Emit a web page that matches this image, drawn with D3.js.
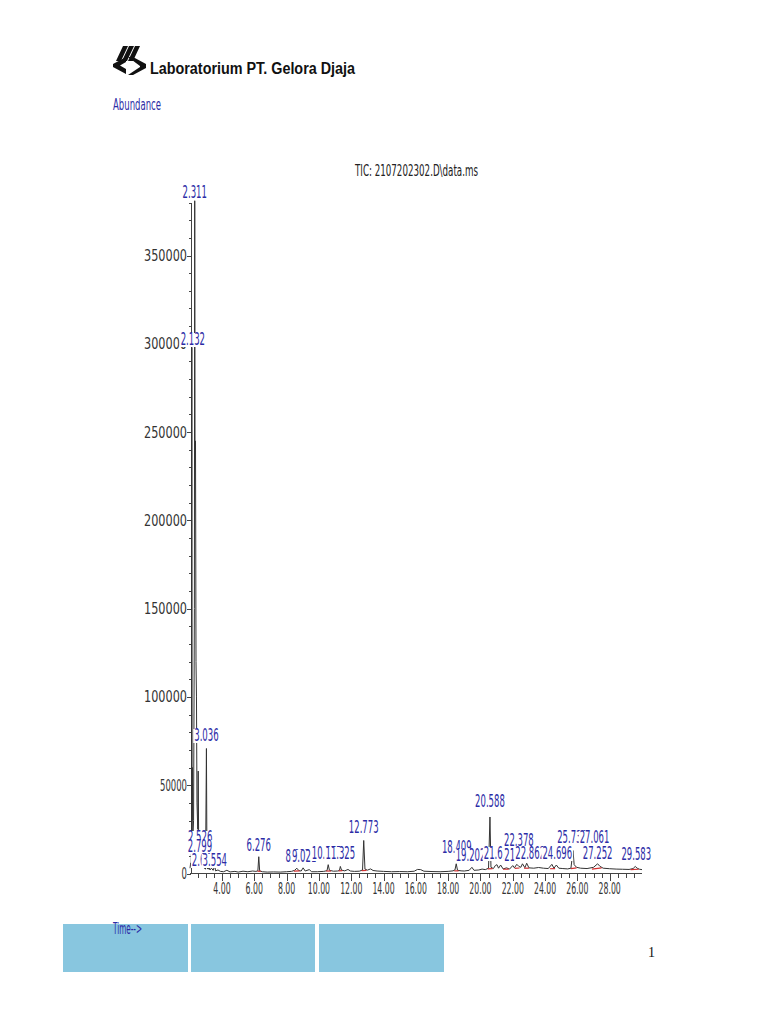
<!DOCTYPE html>
<html>
<head>
<meta charset="utf-8">
<script src="https://cdn.jsdelivr.net/npm/d3@7"></script>
<style>
  html, body { margin: 0; padding: 0; background: #fff; }
  svg { display: block; }
</style>
</head>
<body>
<svg id="chart" width="768" height="1024"></svg>
<script>
// ---------------- DATA ----------------
const headerTitle = "Laboratorium PT. Gelora Djaja";
const yAxisTitle = "Abundance";
const xAxisTitle = "Time-->";
const chartTitle = "TIC: 2107202302.D\\data.ms";
const pageNumber = "1";

const yTicks = [0, 50000, 100000, 150000, 200000, 250000, 300000, 350000];
const yTickLabels = ["0", "50000", "100000", "150000", "200000", "250000", "300000", "350000"];
const xTicks = [4, 6, 8, 10, 12, 14, 16, 18, 20, 22, 24, 26, 28];
const xTickLabels = ["4.00", "6.00", "8.00", "10.00", "12.00", "14.00", "16.00", "18.00", "20.00", "22.00", "24.00", "26.00", "28.00"];

// TIC trace: [retention time (min), abundance]
const trace = [
  [2.02, 3000], [2.06, 6000], [2.09, 4000], [2.12, 20000], [2.132, 298000], [2.145, 30000],
  [2.17, 60000], [2.19, 20000], [2.24, 30000], [2.29, 150000], [2.311, 381000], [2.33, 240000],
  [2.36, 245000], [2.39, 120000], [2.42, 100000], [2.45, 40000], [2.50, 25000], [2.526, 58000],
  [2.56, 12000], [2.62, 6000], [2.641, 9000], [2.68, 4000], [2.76, 5000], [2.799, 12000],
  [2.84, 4000], [2.90, 3000], [2.98, 2500], [3.036, 70800], [3.07, 3000], [3.15, 2500],
  [3.20, 4500], [3.25, 2000], [3.35, 3000], [3.45, 1800], [3.554, 4500], [3.60, 1500],
  [3.75, 2000], [3.90, 1200], [4.10, 1000], [4.30, 1800], [4.50, 900], [4.80, 1200],
  [5.00, 800], [5.30, 1300], [5.60, 1000], [5.90, 1400], [6.10, 1200], [6.22, 1500],
  [6.276, 9500], [6.33, 1500], [6.50, 1000], [6.80, 800], [7.20, 900], [7.60, 800],
  [8.00, 1000], [8.30, 1200], [8.50, 1800], [8.63, 3000], [8.76, 1600], [8.90, 1400],
  [9.021, 3200], [9.15, 1400], [9.40, 2200], [9.55, 1000], [9.90, 1000], [10.30, 1200],
  [10.50, 1600], [10.575, 5000], [10.65, 1800], [10.90, 1300], [11.15, 1400], [11.27, 1700],
  [11.325, 4000], [11.40, 1900], [11.60, 1500], [11.80, 2300], [11.95, 1400], [12.20, 1200],
  [12.50, 1300], [12.70, 2000], [12.773, 18700], [12.85, 2500], [13.00, 1900], [13.20, 2600],
  [13.35, 1700], [13.60, 1400], [14.00, 1200], [14.50, 1000], [15.00, 1100], [15.50, 1000],
  [15.90, 1300], [16.10, 2300], [16.30, 2200], [16.50, 1300], [17.00, 1100], [17.50, 1000],
  [18.00, 1200], [18.30, 1500], [18.42, 2000], [18.50, 5500], [18.58, 1800], [18.80, 1500],
  [19.00, 1400], [19.30, 1800], [19.47, 3500], [19.60, 1800], [19.90, 2000], [20.10, 2500],
  [20.30, 2200], [20.50, 3000], [20.588, 32000], [20.65, 3500], [20.80, 2800], [20.92, 4500],
  [21.02, 5000], [21.12, 3000], [21.25, 4800], [21.40, 2600], [21.617, 3200], [21.80, 2500],
  [22.00, 4500], [22.10, 3200], [22.25, 5200], [22.378, 4000], [22.50, 3500], [22.60, 5500],
  [22.75, 3300], [22.862, 5800], [23.00, 3200], [23.30, 3000], [23.60, 3400], [23.90, 3000],
  [24.20, 2800], [24.42, 5200], [24.55, 3000], [24.696, 4800], [24.85, 3000], [25.10, 2800],
  [25.40, 2600], [25.60, 3000], [25.73, 13000], [25.80, 5000], [25.95, 3500], [26.20, 3000],
  [26.60, 2800], [27.00, 3500], [27.252, 5500], [27.40, 4000], [27.60, 3000], [28.00, 2700],
  [28.40, 2500], [28.80, 2400], [29.20, 2300], [29.45, 2800], [29.583, 4000], [29.70, 3000],
  [29.85, 2400], [30.00, 2200]
];

// Integration baselines (red): [t1, a1, t2, a2]
const integrationBaselines = [
  [6.20, 1300, 6.40, 1200], [8.45, 1300, 8.80, 1500], [10.45, 1400, 10.75, 1400],
  [11.22, 1500, 11.45, 1600], [12.65, 1600, 12.95, 1800], [18.38, 1500, 18.65, 1500],
  [20.45, 2600, 20.75, 2800], [21.40, 2400, 21.75, 2500], [22.12, 2900, 22.42, 3100],
  [22.70, 3000, 23.00, 3000], [24.30, 2700, 24.62, 2800], [25.60, 2800, 25.95, 3200],
  [26.90, 2500, 27.50, 3200], [29.30, 2200, 29.80, 2400]
];

// Peak labels (retention times as printed)
const peakLabels = [
  "2.311", "2.132", "3.036", "2.526", "2.799", "2.641", "3.554", "6.276",
  "8.682", "9.021", "10.575", "11.325", "12.773", "18.409", "19.202", "20.588",
  "21.617", "22.378", "21.935", "22.862", "24.696", "25.730", "27.061", "27.252", "29.583"
];

// ---------------- LAYOUT ----------------
const svg = d3.select("#chart");
svg.append("rect").attr("width", 768).attr("height", 1024).attr("fill", "#fff");

const narrow = "'Liberation Sans Narrow', 'DejaVu Sans Condensed', 'Arial Narrow', sans-serif";
const blue = "#2b2ba6";

const x = d3.scaleLinear().domain([2.0, 30.0]).range([189.7, 642]);
const y = d3.scaleLinear().domain([0, 350000]).range([873.5, 255.5]);

function numWidth(s, dw, pw) {
  let w = 0;
  for (const c of s) w += (c === "." ? pw : dw);
  return w;
}

// ---------- Header & logo ----------
const logo = svg.append("g").attr("fill", "#111");
[0, 6, 12].forEach(o => {
  logo.append("path").attr("d", `M${116 + o},61 L${123 + o},46 L${128 + o},46 L${121 + o},61 Z`);
});
logo.append("path").attr("d", "M113,64 L126,57 L126,62 L120,65.5 L126,69 L126,74 L113,67 Z");
logo.append("path").attr("d", "M128,57 L133,57 L146,64 L146,68 L133,75 L128,75 L140,67 L140,66 Z");

svg.append("text")
  .attr("x", 150).attr("y", 74)
  .attr("font-family", "'Liberation Sans', Arial, sans-serif")
  .attr("font-weight", "bold").attr("font-size", 16)
  .attr("textLength", 205).attr("lengthAdjust", "spacingAndGlyphs")
  .attr("fill", "#111")
  .text(headerTitle);

svg.append("text")
  .attr("x", 113).attr("y", 110)
  .attr("font-family", narrow).attr("font-size", 16)
  .attr("textLength", 48).attr("lengthAdjust", "spacingAndGlyphs")
  .attr("fill", blue)
  .text(yAxisTitle);

svg.append("text")
  .attr("x", 355).attr("y", 176)
  .attr("font-family", narrow).attr("font-size", 15)
  .attr("textLength", 123).attr("lengthAdjust", "spacingAndGlyphs")
  .attr("fill", "#222")
  .text(chartTitle);

// ---------- Axes ----------
const axes = svg.append("g").attr("stroke", "#444").attr("stroke-width", 1).attr("shape-rendering", "crispEdges");
axes.append("line")
  .attr("x1", 191).attr("x2", 191)
  .attr("y1", y(0)).attr("y2", y(380000));
d3.range(0, 380001, 10000).forEach(v => {
  const major = v % 50000 === 0;
  axes.append("line")
    .attr("x1", 191).attr("x2", 191 - (major ? 4 : 2))
    .attr("y1", Math.round(y(v)) + 0.5).attr("y2", Math.round(y(v)) + 0.5);
});
axes.append("line")
  .attr("x1", x(2.0)).attr("x2", x(30.0))
  .attr("y1", 873.5).attr("y2", 873.5);
d3.range(2.5, 30.0, 0.5).forEach(t => {
  const major = Math.abs(t / 2 - Math.round(t / 2)) < 1e-6 && t >= 4 && t <= 28;
  axes.append("line")
    .attr("x1", Math.round(x(t)) + 0.5).attr("x2", Math.round(x(t)) + 0.5)
    .attr("y1", 873.5).attr("y2", 873.5 + (major ? 7 : 4));
});

// y tick labels
const yLabelWidth = s => s.length >= 6 ? 43 : s.length * 5.4;
svg.append("g").selectAll("text").data(yTicks).join("text")
  .attr("x", 187)
  .attr("y", d => y(d) + 5.5)
  .attr("text-anchor", "end")
  .attr("font-family", narrow).attr("font-size", 16)
  .attr("fill", "#333")
  .attr("textLength", (d, i) => yLabelWidth(yTickLabels[i]))
  .attr("lengthAdjust", "spacingAndGlyphs")
  .text((d, i) => yTickLabels[i]);

// x tick labels
svg.append("g").selectAll("text").data(xTicks).join("text")
  .attr("x", d => x(d))
  .attr("y", 894)
  .attr("text-anchor", "middle")
  .attr("font-family", narrow).attr("font-size", 16)
  .attr("fill", "#333")
  .attr("textLength", (d, i) => numWidth(xTickLabels[i], 4.8, 3))
  .attr("lengthAdjust", "spacingAndGlyphs")
  .text((d, i) => xTickLabels[i]);

// ---------- Trace ----------
const line = d3.line().x(d => x(d[0])).y(d => y(d[1]));
svg.append("path")
  .datum(trace)
  .attr("d", line)
  .attr("fill", "none")
  .attr("stroke", "#333")
  .attr("stroke-width", 1)
  .attr("stroke-linejoin", "round");

svg.append("g").selectAll("line").data(integrationBaselines).join("line")
  .attr("x1", d => x(d[0])).attr("y1", d => y(d[1]))
  .attr("x2", d => x(d[2])).attr("y2", d => y(d[3]))
  .attr("stroke", "#d03030").attr("stroke-width", 1.2);

// ---------- Peak labels (white boxes, ChemStation style) ----------
// per-label layout: [horizontal nudge px, baseline y px]
const labelLayout = {
  "2.311": [0, 198], "2.132": [1, 345], "3.036": [0, 741], "2.526": [2, 843],
  "2.799": [-2.6, 852], "2.641": [4, 866], "3.554": [0, 866], "6.276": [0, 851],
  "8.682": [0, 862], "9.021": [1, 862], "10.575": [-1.6, 859], "11.325": [0, 859],
  "12.773": [0, 833], "18.409": [2, 853], "19.202": [3, 861], "20.588": [0, 807],
  "21.617": [-8, 859], "22.378": [0, 846], "21.935": [7.5, 861], "22.862": [3.5, 859],
  "24.696": [1, 859], "25.730": [-1, 843], "27.061": [0, 843], "27.252": [0, 859],
  "29.583": [1, 860]
};
const lblG = svg.append("g");
peakLabels.forEach(lbl => {
  const rt = +lbl;
  const [dx, by] = labelLayout[lbl];
  const w = numWidth(lbl, 5.3, 3.2);
  const cx = x(rt) + dx;
  lblG.append("rect")
    .attr("x", cx - w / 2 - 1).attr("y", by - 12)
    .attr("width", w + 2).attr("height", 14)
    .attr("fill", "#fff");
  lblG.append("text")
    .attr("x", cx).attr("y", by)
    .attr("text-anchor", "middle")
    .attr("font-family", narrow).attr("font-size", 17)
    .attr("fill", blue)
    .attr("textLength", w).attr("lengthAdjust", "spacingAndGlyphs")
    .text(lbl);
});

// ---------- Footer boxes ----------
const boxes = [[63, 125], [191, 124], [319, 125]];
svg.append("g").selectAll("rect").data(boxes).join("rect")
  .attr("x", d => d[0]).attr("y", 924)
  .attr("width", d => d[1]).attr("height", 48)
  .attr("fill", "#88c6df");

svg.append("text")
  .attr("x", 113).attr("y", 934)
  .attr("font-family", narrow).attr("font-size", 15)
  .attr("textLength", 29).attr("lengthAdjust", "spacingAndGlyphs")
  .attr("fill", blue)
  .text(xAxisTitle);

svg.append("text")
  .attr("x", 648).attr("y", 957)
  .attr("font-family", "'Liberation Serif', 'DejaVu Serif', serif")
  .attr("font-size", 14)
  .attr("fill", "#111")
  .text(pageNumber);
</script>
</body>
</html>
